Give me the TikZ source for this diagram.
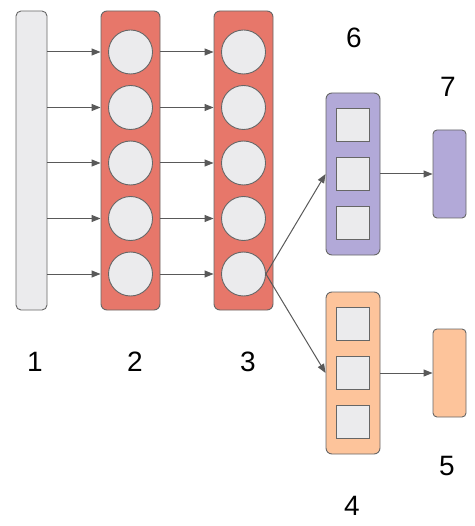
\documentclass[tikz,border=0pt]{standalone}
\usepackage{fontspec}
\setsansfont{Liberation Sans}
\usetikzlibrary{
  arrows.meta,
  positioning
}
\definecolor{cellGrey}{HTML}{EBEBED}
\definecolor{edgeGrey}{HTML}{666666}
\definecolor{arrowGrey}{HTML}{595959}
\definecolor{layerRed}{HTML}{E7776A}
\definecolor{layerPurple}{HTML}{B2A9D8}
\definecolor{layerOrange}{HTML}{FDC49B}
\newcommand{\cellNode}[3]{\node[cell] (#1) at ({#2},{#3}) {};}
\newcommand{\boxNode}[3]{\node[unit] (#1) at ({#2},{#3}) {};}
\tikzset{
  layer/.style={
    rectangle,
    draw=edgeGrey,
    line width=0.9pt,
    rounded corners=6pt,
    inner sep=0pt,
    minimum width=59,
    minimum height=299
  }
}
\tikzset{
  cell/.style={
    circle,
    draw=edgeGrey,
    line width=0.9pt,
    fill=cellGrey,
    inner sep=0pt,
    minimum size=44
  }
}
\tikzset{
  unit/.style={
    rectangle,
    draw=edgeGrey,
    line width=0.9pt,
    fill=cellGrey,
    inner sep=0pt,
    minimum size=33
  }
}
\tikzset{
  head/.style={
    rectangle,
    draw=edgeGrey,
    line width=0.9pt,
    rounded corners=4pt,
    inner sep=0pt,
    minimum width=33,
    minimum height=88
  }
}
\tikzset{
  tag/.style={
    font=\sffamily\fontsize{28}{30}\selectfont,
    inner sep=0pt
  }
}

\begin{document}
\begin{tikzpicture}[x=1pt, y=-1pt, >={Triangle[length=9pt, width=7pt]},
    link/.style={->, draw=arrowGrey, line width=1pt}]
    \useasboundingbox (0,0) rectangle (474,526);

    % input and two dense layers
    \node[layer, fill=cellGrey, minimum width=31, rounded corners=5pt] (in) at (31.5,160.5) {};
    \node[layer, fill=layerRed] (l2) at (130.5,160.5) {};
    \node[layer, fill=layerRed] (l3) at (243.5,160.5) {};

    \foreach \i in {1,...,5}{
      \cellNode{a\i}{130.5}{52+55.5*(\i-1)}
      \cellNode{b\i}{243.5}{52+55.5*(\i-1)}
      \draw[link] (in.east |- a\i) -- (l2.west |- a\i);
      \draw[link] (l2.east |- b\i) -- (l3.west |- b\i);
    }

    % two branches
    \node[layer, fill=layerPurple, minimum width=54, minimum height=162] (h6) at (353,174) {};
    \node[layer, fill=layerOrange, minimum width=54, minimum height=162] (h4) at (353,373) {};
    \foreach \j in {1,2,3}{
      \boxNode{p\j}{353}{125+49*(\j-1)}
      \boxNode{q\j}{353}{324+49*(\j-1)}
    }
    \node[head, fill=layerPurple] (o7) at (449.5,174) {};
    \node[head, fill=layerOrange] (o5) at (449.5,373) {};

    \draw[link] (b5.east) -- (h6.west);
    \draw[link] (b5.east) -- (h4.west);
    \draw[link] (h6.east) -- (o7.west);
    \draw[link] (h4.east) -- (o5.west);

    % labels
    \node[tag] (t1) at (35,362) {1};
    \node[tag] (t2) at (135,362) {2};
    \node[tag] (t3) at (248,362) {3};
    \node[tag] (t6) at (354,38) {6};
    \node[tag] (t7) at (448,87) {7};
    \node[tag] (t4) at (352,506) {4};
    \node[tag] (t5) at (447,466) {5};
\end{tikzpicture}
\end{document}
